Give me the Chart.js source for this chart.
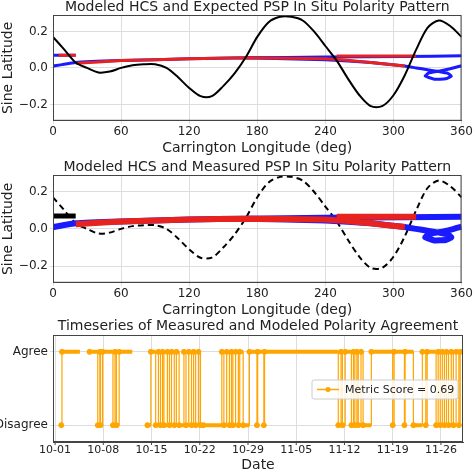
<!DOCTYPE html>
<html><head><meta charset="utf-8">
<script src="https://cdn.jsdelivr.net/npm/chart.js@4/dist/chart.umd.min.js"></script>
<style>
body{margin:0;background:#fff;width:474px;height:471px;overflow:hidden;position:relative}
.p{position:absolute;left:0;width:474px}
</style></head><body>
<div class="p" style="top:0;height:157px"><canvas id="c1"></canvas></div>
<div class="p" style="top:160px;height:159px"><canvas id="c2"></canvas></div>
<div class="p" style="top:310px;height:161px"><canvas id="c3"></canvas></div>
<script>
// HCS neutral line (lon, sine lat)
const hcsLon = [0,10,20,30,40,50,60,70,80,90,100,110,120,130,140,150,160,170,180,190,200,210,220,230,240,250,260,270,280,290,300,310,320,330,340,350,360];
const hcsLat = [0.17,0.1,0.03,0.0,-0.025,-0.02,0.0,0.015,0.02,0.02,0.0,-0.05,-0.11,-0.155,-0.155,-0.1,-0.03,0.06,0.17,0.25,0.28,0.28,0.26,0.2,0.12,0.04,-0.06,-0.15,-0.21,-0.21,-0.15,-0.04,0.1,0.22,0.26,0.23,0.17];
// PSP trajectory pieces
const blueUpperLon = [0,20]; const blueUpperLat = [0.07,0.07];
const blueLowLon = [0,20,60,120,170,240,280,310,320,330,340,348,351,346,336,328,331,340,350,360];
const blueLowLat = [0.01,0.03,0.04,0.05,0.055,0.045,0.03,0.01,0.0,-0.01,-0.02,-0.03,-0.045,-0.06,-0.062,-0.045,-0.028,-0.018,-0.005,0.012];
const blueTopLon = [170,240,310,360]; const blueTopLat = [0.055,0.06,0.063,0.066];
const redShortLon = [5,20]; const redShortLat = [0.07,0.07];
const redLon = [20,60,120,170,240,280,310]; const redLat = [0.025,0.04,0.05,0.055,0.05,0.03,0.01];
const redTopLon = [250,320]; const redTopLat = [0.065,0.065];
const blackDotLon = [0,20]; const blackDotLat=[0.07,0.07];
const blackTopLon = [220,360]; const blackTopLat=[0.065,0.068];
const xTicks = [0,60,120,180,240,300,360];
const yTicks = [-0.2,0,0.2];
// polarity agreement: [day since 10-01, state] (1 Agree, 0 Disagree, null gap)
const switchDays = [0.9,1.0,3.6,5.0,6.2,6.5,6.6,6.9,8.4,8.7,8.9,9.3,11.2,13.4,13.9,14.6,15.0,15.3,15.6,15.8,16.3,16.6,16.9,17.3,17.6,18.0,18.7,19.0,19.4,19.8,20.1,20.4,20.8,21.1,21.5,24.2,24.5,24.9,25.3,25.6,25.8,26.2,26.6,26.8,27.3,28.2,29.3,29.4,30.3,30.4,41.1,41.5,41.7,42.1,43.0,43.3,43.5,43.8,44.0,44.4,44.7,45.9,49.0,49.2,50.7,50.8,52.0,53.3,53.8,54.0,55.3,55.6,55.9,56.2,56.5,56.8,57.1,57.5,57.8,58.2,58.6,58.8,59.2];
const states =     [0,  1,  null,1,0,1,0,1,0,1,0,1,null,0,1,0,1,0,1,0,1,0,1,0,1,0,1,0,1,0,1,0,1,0,0,1,0,1,0,1,0,1,0,1,0,1,0,1,0,1,0,1,0,1,0,1,0,1,0,1,0,1,0,1,0,1,0,1,0,1,0,1,0,1,0,1,0,1,0,1,0,1,1];
const dateTicks = [0,7,14,21,28,35,42,49,56];
const dateLabels = ['10-01','10-08','10-15','10-22','10-29','11-05','11-12','11-19','11-26'];

const F = 'DejaVu Sans';
const TC = '#222';
const pts = (xs,ys)=>xs.map((x,i)=>({x,y:ys[i]}));
function ln(xs,ys,color,w,dash,t){return {data:pts(xs,ys),borderColor:color,backgroundColor:color,borderWidth:w,pointRadius:0,showLine:true,borderDash:dash||[],tension:t===undefined?0.1:t};}
const fixY = {afterFit(s){s.width=53;}};
const framePlugin={id:'fr',afterDatasetsDraw(c){const a=c.chartArea,ctx=c.ctx;ctx.save();ctx.strokeStyle='#444';ctx.lineWidth=1;ctx.strokeRect(a.left+0.5,a.top+0.5,a.right-a.left-1,a.bottom-a.top-1);ctx.restore();}};
function titlePlugin(text,y){return {id:'tt',afterDraw(c){const ctx=c.ctx;ctx.save();ctx.font='14px '+F;ctx.fillStyle=TC;ctx.textAlign='center';ctx.textBaseline='middle';
  ctx.fillText(text,(c.chartArea.left+c.chartArea.right)/2,y);ctx.restore();}};}
function lonOpts(top){return {
  animation:false,responsive:true,maintainAspectRatio:false,
  layout:{padding:{right:11,top:top}},
  plugins:{legend:{display:false},tooltip:{enabled:false}},
  scales:{
    x:{type:'linear',min:0,max:360,afterBuildTicks(s){s.ticks=xTicks.map(v=>({value:v}));},
       ticks:{font:{family:F,size:12},color:TC,maxRotation:0,padding:1,autoSkip:false},
       grid:{color:'#ddd',tickLength:3},border:{color:'#444'},
       title:{display:true,text:'Carrington Longitude (deg)',font:{family:F,size:14},color:TC,padding:0}},
    y:{min:-0.29,max:0.29,afterBuildTicks(s){s.ticks=yTicks.map(v=>({value:v}));},
       ticks:{font:{family:F,size:12},color:TC,padding:2,callback:v=>v===0?'0.0':(v<0?'\u2212'+Math.abs(v).toFixed(1):v.toFixed(1))},
       grid:{color:'#ddd',tickLength:3},border:{color:'#444'},
       title:{display:true,text:'Sine Latitude',font:{family:F,size:14},color:TC,padding:0},...fixY}
  }};}
new Chart(document.getElementById('c1'),{type:'scatter',data:{datasets:[
  ln(hcsLon,hcsLat,'#000',2,[],0.3),
  ln(redShortLon,redShortLat,'#e8221c',3),
  ln(redLon,redLat,'#e8221c',3),
  ln(redTopLon,redTopLat,'#e8221c',3),
  ln(blueUpperLon,blueUpperLat,'#1a1aff',3),
  ln(blueLowLon,blueLowLat,'#1a1aff',3),
  ln(blueTopLon,blueTopLat,'#1a1aff',3),
]},plugins:[framePlugin,titlePlugin('Modeled HCS and Expected PSP In Situ Polarity Pattern',7)],options:lonOpts(15)});
new Chart(document.getElementById('c2'),{type:'scatter',data:{datasets:[
  ln(redLon,redLat,'#e8221c',6),
  ln(blueLowLon,blueLowLat,'#1a1aff',6),
  ln(redTopLon,redTopLat,'#e8221c',6),
  ln(blueTopLon,blueTopLat,'#1a1aff',6),
  ln(blackDotLon,blackDotLat,'#000',5),
  ln(blackTopLon,blackTopLat,'#111',3,[3,6]),
  ln(hcsLon,hcsLat,'#000',2,[6,4],0.3),
]},plugins:[framePlugin,titlePlugin('Modeled HCS and Measured PSP In Situ Polarity Pattern',7)],options:lonOpts(15)});

// build step series from switch list
const stepPts=[], runPts=[], markPts=[];
for(let i=0;i<switchDays.length;i++){
  const s=states[i], d=switchDays[i];
  stepPts.push({x:d,y:s});
  if(s!==null) markPts.push({x:d,y:s});
  if(i<switchDays.length-1){
    runPts.push({x:d,y:s}); runPts.push({x:switchDays[i+1],y:s}); runPts.push({x:switchDays[i+1],y:null});
  }
}
const OR='#ffa500';
const legendPlugin={id:'lg',afterDraw(c){const ctx=c.ctx;const x=312,y=380-310,w=146,h=19;
  ctx.save();ctx.fillStyle='rgba(255,255,255,0.85)';ctx.strokeStyle='#ccc';ctx.lineWidth=1;
  ctx.beginPath();ctx.roundRect(x,y,w,h,2);ctx.fill();ctx.stroke();
  ctx.strokeStyle=OR;ctx.lineWidth=1.5;ctx.beginPath();ctx.moveTo(x+5,y+h/2);ctx.lineTo(x+27,y+h/2);ctx.stroke();
  ctx.fillStyle=OR;ctx.beginPath();ctx.arc(x+16,y+h/2,2.5,0,7);ctx.fill();
  ctx.fillStyle=TC;ctx.font='11px '+F;ctx.textBaseline='middle';ctx.fillText('Metric Score = 0.69',x+33,y+h/2+1);ctx.restore();}};
const dateAxisPlugin={id:'dax',afterDraw(c){const ctx=c.ctx,s=c.scales.x,b=c.chartArea.bottom;ctx.save();ctx.fillStyle=TC;ctx.textAlign='center';
  ctx.font='11px '+F;ctx.textBaseline='top';
  dateTicks.forEach((v,i)=>{const px=s.getPixelForValue(v);ctx.strokeStyle='#444';ctx.beginPath();ctx.moveTo(px,b);ctx.lineTo(px,b+3);ctx.stroke();ctx.fillText(dateLabels[i],px,b+3);});
  ctx.font='14px '+F;ctx.textBaseline='middle';ctx.fillText('Date',(c.chartArea.left+c.chartArea.right)/2,b+23);ctx.restore();}};
new Chart(document.getElementById('c3'),{type:'scatter',data:{datasets:[
  {data:stepPts,showLine:true,stepped:'before',borderColor:OR,borderWidth:1.2,pointRadius:0,spanGaps:false},
  {data:runPts,showLine:true,borderColor:OR,borderWidth:4,pointRadius:0,spanGaps:false},
  {data:markPts,backgroundColor:OR,borderColor:OR,pointRadius:2.5},
]},plugins:[framePlugin,legendPlugin,titlePlugin('Timeseries of Measured and Modeled Polarity Agreement',16),dateAxisPlugin],options:{
  animation:false,responsive:true,maintainAspectRatio:false,layout:{padding:{right:11,top:25}},
  plugins:{legend:{display:false},tooltip:{enabled:false}},
  scales:{
    x:{type:'linear',min:-0.3,max:59.2,afterBuildTicks(s){s.ticks=dateTicks.map(v=>({value:v}));},
       ticks:{display:false},afterFit(s){s.height=29;},
       grid:{color:'#ddd',drawTicks:false},border:{color:'#444'}},
    y:{min:-0.23,max:1.23,afterBuildTicks(s){s.ticks=[{value:0},{value:1}];},
       ticks:{font:{family:F,size:12},color:TC,padding:2,callback:v=>v===1?'Agree':'Disagree'},
       grid:{color:'#ddd',tickLength:3},border:{color:'#444'},...fixY}
  }}});
</script></body></html>
